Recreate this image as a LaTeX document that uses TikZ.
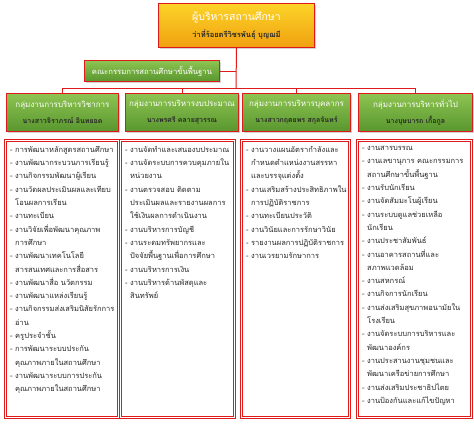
\documentclass[tikz,border=0pt]{standalone}
\usepackage{fontspec}
\newfontfamily\thai[Script=Thai]{Loma}
\usetikzlibrary{shadows}
\definecolor{bred}{RGB}{222,26,26}
\definecolor{gold1}{RGB}{252,212,40}
\definecolor{gold2}{RGB}{240,160,16}
\definecolor{grn1}{RGB}{142,196,82}
\definecolor{grn2}{RGB}{88,150,46}
\definecolor{txtdark}{RGB}{40,40,40}
\begin{document}
\begin{tikzpicture}[x=1pt,y=-1pt,
  conn/.style={draw=bred,line width=1pt},
  topbox/.style={draw=bred,line width=1pt,top color=gold1,bottom color=gold2,
    drop shadow={opacity=0.35,shadow xshift=1.5pt,shadow yshift=-1.5pt},
    anchor=north west,inner sep=0pt,align=center},
  hdrbox/.style={draw=bred,line width=1pt,top color=grn1,bottom color=grn2,
    drop shadow={opacity=0.35,shadow xshift=1.5pt,shadow yshift=-1.5pt},
    anchor=north west,inner sep=0pt,align=center},
  listbox/.style={draw=bred,line width=0.8pt,double=white,double distance=0.9pt,
    fill=white,anchor=north west,inner sep=0pt,
    drop shadow={opacity=0.25,shadow xshift=1.5pt,shadow yshift=-1.5pt}},
  listtxt/.style={anchor=north west,inner sep=0pt,align=left,text=txtdark,
    font=\thai\fontsize{7.5}{13.3}\selectfont},
]
\useasboundingbox (0,0) rectangle (474,426);

% top box
\node[topbox,minimum width=156pt,minimum height=44pt] (top) at (158,3)
  {{\color{white}\thai\fontsize{10.5}{12}\selectfont ผู้บริหารสถานศึกษา}\\[5pt]
   {\color{txtdark}\thai\bfseries\fontsize{7.5}{9}\selectfont ว่าที่ร้อยตรีวิชรพันธุ์ บุญฌมี}};

% committee bar
\node[hdrbox,minimum width=135pt,minimum height=21pt] (bar) at (84,60)
  {\color{white}\thai\fontsize{7.7}{9}\selectfont คณะกรรมการสถานศึกษาขั้นพื้นฐาน};

% header boxes
\node[hdrbox,minimum width=112pt,minimum height=38pt] (h1) at (6,93)
  {{\color{white}\thai\fontsize{8}{10}\selectfont กลุ่มงานการบริหารวิชาการ}\\[4pt]
   {\color{txtdark}\thai\bfseries\fontsize{7}{9}\selectfont นางสาวจิราภรณ์ อินทยอด}};
\node[hdrbox,minimum width=113pt,minimum height=38pt] (h2) at (125,93)
  {{\color{white}\thai\fontsize{8}{10}\selectfont กลุ่มงานการบริหารงบประมาณ}\\[4pt]
   {\color{txtdark}\thai\bfseries\fontsize{7}{9}\selectfont นางพรศรี คลายสุวรรณ}};
\node[hdrbox,minimum width=108pt,minimum height=38pt] (h3) at (242,93)
  {{\color{white}\thai\fontsize{8}{10}\selectfont กลุ่มงานการบริหารบุคลากร}\\[4pt]
   {\color{txtdark}\thai\bfseries\fontsize{7}{9}\selectfont นางสาวกฤตยพร สกุลจันทร์}};
\node[hdrbox,minimum width=114pt,minimum height=38pt] (h4) at (358,93)
  {{\color{white}\thai\fontsize{8}{10}\selectfont กลุ่มงานการบริหารทั่วไป}\\[4pt]
   {\color{txtdark}\thai\bfseries\fontsize{7}{9}\selectfont นางบุษบารถ เกื้อกูล}};

% connectors
\coordinate (j) at (236,88);
\draw[conn] (top.south) -- (j);
\draw[conn] (bar.east) -- (bar.east -| j);
\draw[conn] (h1.north |- j) -- (h4.north |- j);
\draw[conn] (h1.north |- j) -- (h1.north);
\draw[conn] (h2.north |- j) -- (h2.north);
\draw[conn] (h3.north |- j) -- (h3.north);
\draw[conn] (h4.north |- j) -- (h4.north);

% list boxes
\node[listbox,minimum width=113pt,minimum height=277pt] (l1) at (5,140) {};
\node[listbox,minimum width=114pt,minimum height=277pt] (l2) at (120,140) {};
\node[listbox,minimum width=108pt,minimum height=277pt] (l3) at (241,140) {};
\node[listbox,minimum width=114pt,minimum height=277pt] (l4) at (357,140) {};

\def\cn{\hphantom{-\ }}
\node[listtxt] (t1) at (10,146) {%
- การพัฒนาหลักสูตรสถานศึกษา\\
- งานพัฒนากระบวนการเรียนรู้\\
- งานกิจกรรมพัฒนาผู้เรียน\\
- งานวัดผลประเมินผลและเทียบ\\
\cn โอนผลการเรียน\\
- งานทะเบียน\\
- งานวิจัยเพื่อพัฒนาคุณภาพ\\
\cn การศึกษา\\
- งานพัฒนาเทคโนโลยี\\
\cn สารสนเทศและการสื่อสาร\\
- งานพัฒนาสื่อ นวัตกรรม\\
- งานพัฒนาแหล่งเรียนรู้\\
- งานกิจกรรมส่งเสริมนิสัยรักการ\\
\cn อ่าน\\
- ครูประจำชั้น\\
- การพัฒนาระบบประกัน\\
\cn คุณภาพภายในสถานศึกษา\\
- งานพัฒนาระบบการประกัน\\
\cn คุณภาพภายในสถานศึกษา};

\node[listtxt] (t2) at (125,146) {%
- งานจัดทำและเสนองบประมาณ\\
- งานจัดระบบการควบคุมภายใน\\
\cn หน่วยงาน\\
- งานตรวจสอบ ติดตาม\\
\cn ประเมินผลและรายงานผลการ\\
\cn ใช้เงินผลการดำเนินงาน\\
- งานบริหารการบัญชี\\
- งานระดมทรัพยากรและ\\
\cn ปัจจัยพื้นฐานเพื่อการศึกษา\\
- งานบริหารการเงิน\\
- งานบริหารด้านพัสดุและ\\
\cn สินทรัพย์};

\node[listtxt] (t3) at (246,146) {%
- งานวางแผนอัตรากำลังและ\\
\cn กำหนดตำแหน่งงานสรรหา\\
\cn และบรรจุแต่งตั้ง\\
- งานเสริมสร้างประสิทธิภาพใน\\
\cn การปฏิบัติราชการ\\
- งานทะเบียนประวัติ\\
- งานวินัยและการรักษาวินัย\\
- รายงานผลการปฏิบัติราชการ\\
- งานเวรยามรักษาการ};

\node[listtxt] (t4) at (362,146) {%
- งานสารบรรณ\\
- งานเลขานุการ คณะกรรมการ\\
\cn สถานศึกษาขั้นพื้นฐาน\\
- งานรับนักเรียน\\
- งานจัดสัมมะโนผู้เรียน\\
- งานระบบดูแลช่วยเหลือ\\
\cn นักเรียน\\
- งานประชาสัมพันธ์\\
- งานอาคารสถานที่และ\\
\cn สภาพแวดล้อม\\
- งานสหกรณ์\\
- งานกิจการนักเรียน\\
- งานส่งเสริมสุขภาพอนามัยใน\\
\cn โรงเรียน\\
- งานจัดระบบการบริหารและ\\
\cn พัฒนาองค์กร\\
- งานประสานงานชุมชนและ\\
\cn พัฒนาเครือข่ายการศึกษา\\
- งานส่งเสริมประชาธิปไตย\\
- งานป้องกันและแก้ไขปัญหา};
\end{tikzpicture}
\end{document}
